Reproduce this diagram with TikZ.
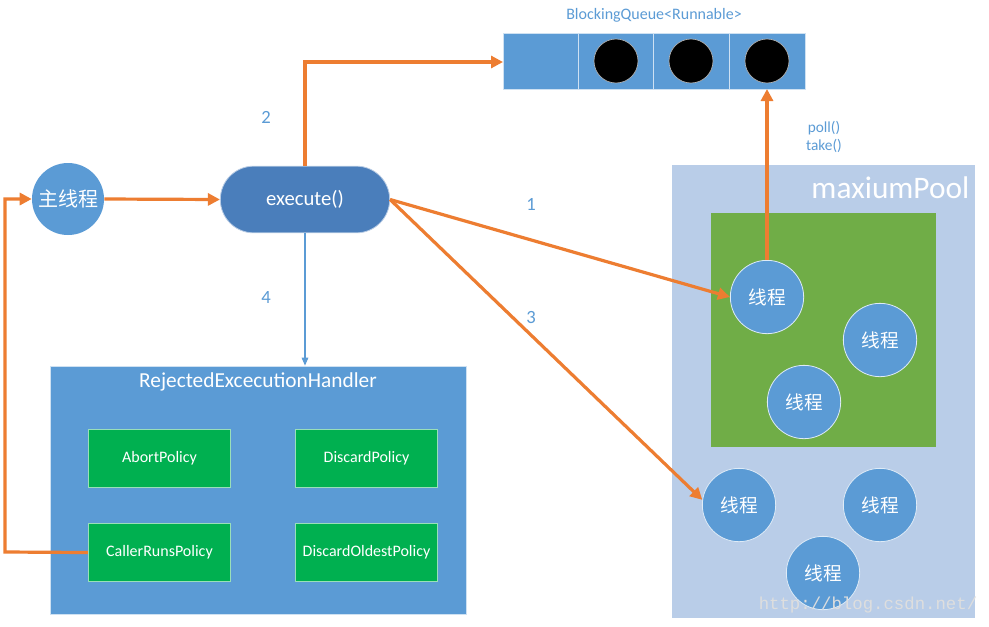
\documentclass[tikz,border=0pt]{standalone}
\usepackage{fontspec}
\setmainfont{Carlito}
\newfontfamily\cjk{Noto Sans CJK SC}
\newfontfamily\wmfont{Liberation Mono}
\usetikzlibrary{arrows.meta}
\definecolor{qblue}{HTML}{5B9BD5}
\definecolor{dblue}{HTML}{4A7EBB}
\definecolor{oarrow}{HTML}{ED7D31}
\definecolor{pgreen}{HTML}{00B050}
\definecolor{ggreen}{HTML}{70AD47}
\definecolor{pool}{HTML}{B9CDE8}
\definecolor{lbl}{HTML}{5B9BD5}
\tikzset{
  thread/.style={circle, fill=qblue, draw=white!80!qblue, line width=0.6pt, minimum size=55pt, inner sep=0pt, text=white, font=\cjk\fontsize{14}{16}\selectfont},
  policy/.style={rectangle, fill=pgreen, draw=white!60!pgreen, line width=0.6pt, minimum width=107pt, minimum height=43pt, inner sep=0pt, text=white, font=\fontsize{12}{14}\selectfont},
  oarr/.style={draw=oarrow, line width=2.4pt, -{Triangle[length=9pt,width=9pt]}},
  num/.style={text=lbl, font=\fontsize{14}{16}\selectfont},
  dot/.style={circle, fill=black, draw=white!70!black, line width=0.5pt, minimum size=33pt, inner sep=0pt}
}
\begin{document}
\begin{tikzpicture}[x=0.75pt,y=-0.75pt]
\useasboundingbox (0,0) rectangle (989,626);
\fill[white] (0,0) rectangle (989,626);
% queue
\node[text=lbl, font=\fontsize{12}{14}\selectfont] (qtitle) at (654,15) {BlockingQueue<Runnable>};
\node[rectangle, fill=qblue, draw=white!70!qblue, line width=0.6pt, minimum width=227pt, minimum height=42pt, inner sep=0pt] (queue) at (654.5,61) {};
\draw[white!70!qblue, line width=0.6pt] (578,33) -- (578,89) (653,33) -- (653,89) (729,33) -- (729,89);
\node[dot] (d1) at (616,61) {};
\node[dot] (d2) at (691,61) {};
\node[dot] (d3) at (767,61) {};
\coordinate (qleft) at (503,62);
\coordinate (qbot) at (767,89);
% main thread
\node[circle, fill=qblue, minimum size=54pt, inner sep=0pt, text=white, font=\cjk\fontsize{15}{17}\selectfont] (main) at (68,199) {主线程};
% execute
\node[rectangle, rounded corners=25pt, fill=dblue, draw=white!60!dblue, line width=0.6pt, minimum width=127pt, minimum height=50pt, inner sep=0pt, text=white, font=\fontsize{15.5}{17}\selectfont] (exec) at (305,199.5) {execute()};
% rejected handler
\node[rectangle, fill=qblue, draw=white!70!qblue, line width=0.6pt, minimum width=312pt, minimum height=186pt, inner sep=0pt] (rej) at (258,490) {};
\node[text=white, font=\fontsize{16}{18}\selectfont] (rejtitle) at (258,382) {RejectedExcecutionHandler};
\node[policy] (abort) at (159.5,458.5) {AbortPolicy};
\node[policy] (discard) at (366.5,458.5) {DiscardPolicy};
\node[policy] (caller) at (159.5,552.5) {CallerRunsPolicy};
\node[policy] (oldest) at (366.5,552.5) {DiscardOldestPolicy};
% pool
\node[rectangle, fill=pool, minimum width=227pt, minimum height=340pt, inner sep=0pt] (pool) at (823.5,391.5) {};
\node[anchor=east, text=white, font=\fontsize{23.5}{26}\selectfont] (pooltitle) at (974,188) {maxiumPool};
\node[rectangle, fill=ggreen, minimum width=169pt, minimum height=176pt, inner sep=0pt] (core) at (823.5,330) {};
\node[thread] (t1) at (767,297) {线程};
\node[thread] (t2) at (880,340) {线程};
\node[thread] (t3) at (804,402) {线程};
\node[thread] (t4) at (739,505) {线程};
\node[thread] (t5) at (880,505) {线程};
\node[thread] (t6) at (823,573) {线程};
\node[text=black!13, font=\wmfont\fontsize{13}{15}\selectfont] (wm) at (868,605) {http://blog.csdn.net/};
% labels
\node[num] (n2) at (266,117) {2};
\node[num] (n1) at (531,204) {1};
\node[num] (n4) at (266,297) {4};
\node[num] (n3) at (531,317) {3};
\node[text=lbl, font=\fontsize{11.5}{14}\selectfont, align=center] (poll) at (824,137) {poll()\\take()};
% connectors
\draw[oarr] (main.east) -- (exec.west);
\draw[oarr] (exec.north) |- (qleft);
\draw[oarr] (exec.east) -- (t1.west);
\draw[oarr] (exec.east) -- (t4.172);
\draw[draw=qblue, line width=0.8pt, -{Triangle[length=6pt,width=5pt]}] (exec.south) -- (rej.north -| exec.south);
\draw[oarr] (t1.north) -- (qbot);
\coordinate (lc) at (5,552);
\draw[oarr] (caller.west) -- (lc) |- (main.west);
\end{tikzpicture}
\end{document}
